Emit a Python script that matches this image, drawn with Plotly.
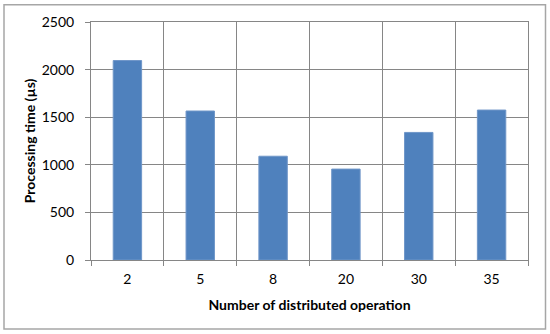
import plotly.graph_objects as go

categories = ["2", "5", "8", "20", "30", "35"]
processing_time = [2095, 1565, 1090, 955, 1340, 1575]
y_ticks = [0, 500, 1000, 1500, 2000, 2500]

GRID = "#868686"
FONT = "Lato, 'Open Sans', sans-serif"

L, R, T, B = 91, 22, 22, 74
PW, PH = 550 - L - R, 334 - T - B

fig = go.Figure(
    go.Bar(
        x=categories,
        y=processing_time,
        width=0.39,
        marker=dict(color="#4F81BD", line=dict(color="#6F96C8", width=1)),
    )
)

fig.update_layout(
    width=550,
    height=334,
    margin=dict(l=L, r=R, t=T, b=B, autoexpand=False),
    paper_bgcolor="white",
    plot_bgcolor="white",
    showlegend=False,
    font=dict(family=FONT, size=14, color="#000000"),
    shapes=[
        dict(
            type="rect",
            xref="paper",
            yref="paper",
            x0=(4 - L) / PW,
            x1=(545.5 - L) / PW,
            y0=-(329 - (334 - B)) / PH,
            y1=((334 - B) - 4.7) / PH,
            line=dict(color="#A6A6A6", width=1.5),
            fillcolor="rgba(0,0,0,0)",
            layer="below",
        )
    ],
)

fig.update_xaxes(
    type="category",
    tickson="boundaries",
    showgrid=True,
    gridcolor=GRID,
    gridwidth=1,
    showline=True,
    linecolor=GRID,
    linewidth=1,
    mirror=True,
    ticks="outside",
    ticklen=5,
    tickcolor=GRID,
    ticklabelstandoff=6,
    tickfont=dict(size=14, family=FONT),
    automargin=False,
    title=dict(
        text="<b>Number of distributed operation</b>",
        font=dict(size=14, family=FONT),
        standoff=14,
    ),
)

fig.update_yaxes(
    range=[0, 2500],
    tickvals=y_ticks,
    ticktext=[str(v) for v in y_ticks],
    showgrid=True,
    gridcolor=GRID,
    gridwidth=1,
    showline=True,
    linecolor=GRID,
    linewidth=1,
    mirror=True,
    ticks="outside",
    ticklen=5,
    tickcolor=GRID,
    ticklabelstandoff=8,
    zeroline=False,
    automargin=False,
    tickfont=dict(size=14, family=FONT),
    title=dict(
        text="<b>Processing time (µs)</b>",
        font=dict(size=14, family=FONT),
        standoff=2,
    ),
)

fig.write_html(
    "out.html",
    config={"displayModeBar": False},
    post_script="document.body.style.margin='0';document.body.style.overflow='hidden';",
)
